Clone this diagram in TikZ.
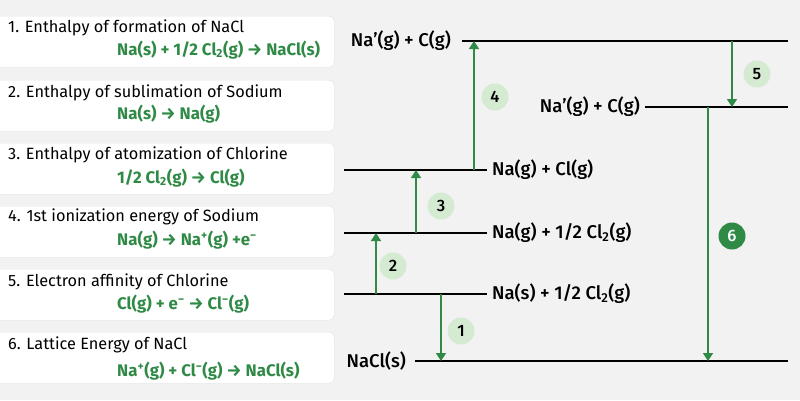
\documentclass[tikz,border=0pt]{standalone}
\usepackage{fontspec}
\setmainfont{Fira Sans}
\newfontfamily\medfont{Fira Sans Medium}
\usetikzlibrary{arrows.meta}
\definecolor{bgc}{HTML}{F2F2F2}
\definecolor{grn}{HTML}{2F8A46}
\definecolor{lgrn}{HTML}{D4EBD2}
\definecolor{bord}{HTML}{E4E4E4}
\tikzset{
  panel/.style={draw=bord, fill=white, rounded corners=5pt, minimum width=340pt, minimum height=51pt, anchor=north west, inner sep=0pt},
  ttl/.style={anchor=west, inner sep=0pt, font=\fontsize{16.3}{18}\selectfont},
  eqn/.style={anchor=west, inner sep=0pt, text=grn, font=\bfseries\fontsize{16.8}{18}\selectfont},
  lvl/.style={line width=2pt, black},
  lbl/.style={inner sep=0pt, font=\medfont\fontsize{18.5}{20}\selectfont},
  stp/.style={line width=1.6pt, grn, -{Triangle[width=10pt,length=8pt]}},
  badge/.style={circle, fill=lgrn, minimum size=27pt, inner sep=0pt, font=\medfont\fontsize{16.5}{18}\selectfont},
  badgedark/.style={circle, fill=grn, text=white, minimum size=27pt, inner sep=0pt, font=\medfont\fontsize{16.5}{18}\selectfont}
}
\begin{document}
\begin{tikzpicture}[x=1pt,y=-1pt]
\fill[bgc] (0,0) rectangle (800,400);
\useasboundingbox (0,0) rectangle (800,400);
% panels
\node[panel] (box1) at (-6,16) {};
\node[panel] (box2) at (-6,80) {};
\node[panel] (box3) at (-6,143) {};
\node[panel] (box4) at (-6,206) {};
\node[panel] (box5) at (-6,269) {};
\node[panel] (box6) at (-6,332) {};
\node[ttl] (t1) at (8,28) {1. Enthalpy of formation of NaCl};
\node[eqn] (e1) at (117,50) {Na(s) + 1/2 Cl\textsubscript{2}(g) → NaCl(s)};
\node[ttl] (t2) at (8,93) {2. Enthalpy of sublimation of Sodium};
\node[eqn] (e2) at (117,114) {Na(s) → Na(g)};
\node[ttl] (t3) at (8,155) {3. Enthalpy of atomization of Chlorine};
\node[eqn] (e3) at (117,178) {1/2 Cl\textsubscript{2}(g) → Cl(g)};
\node[ttl] (t4) at (8,217) {4. 1st ionization energy of Sodium};
\node[eqn] (e4) at (117,240) {Na(g) → Na\textsuperscript{+}(g) +e\textsuperscript{−}};
\node[ttl] (t5) at (8,282) {5. Electron affinity of Chlorine};
\node[eqn] (e5) at (117,304) {Cl(g) + e\textsuperscript{−} → Cl\textsuperscript{−}(g)};
\node[ttl] (t6) at (8,345) {6. Lattice Energy of NaCl};
\node[eqn] (e6) at (117,371) {Na\textsuperscript{+}(g) + Cl\textsuperscript{−}(g) → NaCl(s)};
% levels
\coordinate (L1a) at (462,41); \coordinate (L1b) at (788,41);
\coordinate (L2a) at (645,107); \coordinate (L2b) at (788,107);
\coordinate (L3a) at (344,170); \coordinate (L3b) at (487,170);
\coordinate (L4a) at (344,233); \coordinate (L4b) at (487,233);
\coordinate (L5a) at (344,294); \coordinate (L5b) at (487,294);
\coordinate (L6a) at (415,361); \coordinate (L6b) at (788,361);
\draw[lvl] (L1a) -- (L1b);
\draw[lvl] (L2a) -- (L2b);
\draw[lvl] (L3a) -- (L3b);
\draw[lvl] (L4a) -- (L4b);
\draw[lvl] (L5a) -- (L5b);
\draw[lvl] (L6a) -- (L6b);
\node[lbl, anchor=east] (n1) at (451,41) {Na’(g) + C(g)};
\node[lbl, anchor=east] (n2) at (640,107) {Na’(g) + C(g)};
\node[lbl, anchor=west] (n3) at (492,170) {Na(g) + Cl(g)};
\node[lbl, anchor=west] (n4) at (492,233) {Na(g) + 1/2 Cl\textsubscript{2}(g)};
\node[lbl, anchor=west] (n5) at (492,294) {Na(s) + 1/2 Cl\textsubscript{2}(g)};
\node[lbl, anchor=east] (n6) at (406,361) {NaCl(s)};
% arrows
\coordinate (a1s) at (441,294); \coordinate (a1e) at (441,361);
\coordinate (a2s) at (376,294); \coordinate (a2e) at (376,233);
\coordinate (a3s) at (416,233); \coordinate (a3e) at (416,170);
\coordinate (a4s) at (474,170); \coordinate (a4e) at (474,41);
\coordinate (a5s) at (732,41); \coordinate (a5e) at (732,107);
\coordinate (a6s) at (708,107); \coordinate (a6e) at (708,361);
\draw[stp] (a1s) -- (a1e);
\draw[stp] (a2s) -- (a2e);
\draw[stp] (a3s) -- (a3e);
\draw[stp] (a4s) -- (a4e);
\draw[stp] (a5s) -- (a5e);
\draw[stp] (a6s) -- (a6e);
\node[badge] (b1) at (461,331) {1};
\node[badge] (b2) at (393,266) {2};
\node[badge] (b3) at (441,206) {3};
\node[badge] (b4) at (495,97) {4};
\node[badge] (b5) at (757,74) {5};
\node[badgedark] (b6) at (732,236) {6};
\end{tikzpicture}
\end{document}
